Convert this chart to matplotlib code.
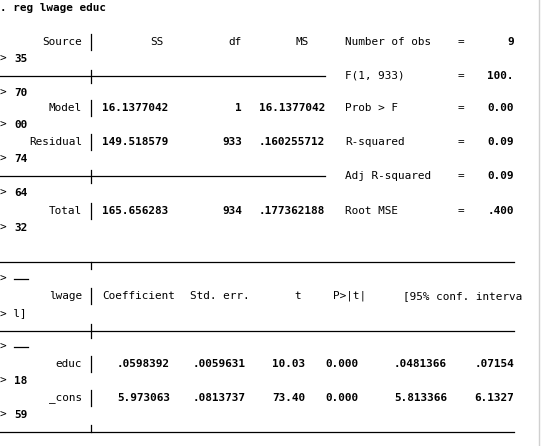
import matplotlib.pyplot as plt

# Stata "reg lwage educ" output, values as printed
anova_rows = ["Model", "Residual", "Total"]
anova_ss = ["16.1377042", "149.518579", "165.656283"]
anova_df = ["1", "933", "934"]
anova_ms = ["16.1377042", ".160255712", ".177362188"]
stat_names = ["Number of obs", "F(1, 933)", "Prob > F", "R-squared", "Adj R-squared", "Root MSE"]
stat_vals = ["9", "100.", "0.00", "0.09", "0.09", ".400"]
stat_wrap = ["35", "70", "00", "74", "64", "32"]
coef_rows = ["educ", "_cons"]
coef_cols = [[".0598392", "5.973063"], [".0059631", ".0813737"], ["10.03", "73.40"],
             ["0.000", "0.000"], [".0481366", "5.813366"], [".07154", "6.1327"]]
coef_wrap = ["18", "59"]

W, H = 541, 446
fig = plt.figure(figsize=(W / 100, H / 100), dpi=100)
ax = fig.add_axes([0, 0, 1, 1])
ax.set_xlim(0, W)
ax.set_ylim(H, 0)
ax.axis("off")

FONT = dict(family="DejaVu Sans Mono", fontsize=7.9, va="center", color="black")
BAR_X = 91


def txt(x, y, s, ha="left", bold=False):
    ax.text(x, y, s, ha=ha, fontweight="bold" if bold else "normal", **FONT)


def bar(y0, y1):
    ax.plot([BAR_X, BAR_X], [y0, y1], color="black", lw=0.9)


def hline(y, x1):
    ax.plot([0, x1], [y, y], color="black", lw=0.9)


def wrap(y, s):
    txt(0, y, ">")
    txt(14, y, s, bold=True)


txt(0, 8, ". reg lwage educ", bold=True)

# anova header
txt(82, 42, "Source", ha="right")
bar(34, 50)
txt(150, 42, "SS")
txt(228, 42, "df")
txt(296, 42, "MS")

# stats column on the right
stat_y = [42, 76, 108, 142, 176, 211]
for name, val, w, y in zip(stat_names, stat_vals, stat_wrap, stat_y):
    txt(345, y, name)
    txt(458, y, "=")
    txt(514, y, val, ha="right", bold=True)
    wrap(y + 17, w)

hline(76, 325)
bar(70, 83)
hline(176, 325)
bar(170, 183)

row_y = [108, 142, 211]
for name, ss, df, ms, y in zip(anova_rows, anova_ss, anova_df, anova_ms, row_y):
    txt(82, y, name, ha="right")
    bar(y - 8, y + 8)
    txt(102, y, ss, bold=True)
    txt(242, y, df, ha="right", bold=True)
    txt(325, y, ms, ha="right", bold=True)

# coefficient table
hline(262, 514)
bar(262, 269)
txt(0, 279, ">")
ax.plot([14, 28], [279, 279], color="black", lw=0.9)
txt(82, 296, "lwage", ha="right")
bar(288, 304)
txt(102, 296, "Coefficient")
txt(190, 296, "Std. err.")
txt(294, 296, "t")
txt(333, 296, "P>|t|")
txt(403, 296, "[95% conf. interva")
txt(0, 313, "> l]")
hline(331, 514)
bar(324, 338)
txt(0, 347, ">")
ax.plot([14, 28], [347, 347], color="black", lw=0.9)

col_right = [170, 246, 305, 359, 447, 514]
coef_y = [364, 398]
for i, (name, w, y) in enumerate(zip(coef_rows, coef_wrap, coef_y)):
    txt(82, y, name, ha="right")
    bar(y - 8, y + 8)
    for col, xr in zip(coef_cols, col_right):
        txt(xr, y, col[i], ha="right", bold=True)
    wrap(y + 17, w)

hline(432, 514)
bar(425, 432)

ax.plot([539, 539], [0, H], color="#d0d0d0", lw=1)

fig.savefig("out.png", dpi=100)
